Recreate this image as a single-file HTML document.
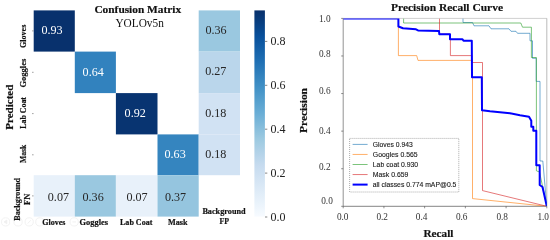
<!DOCTYPE html>
<html><head><meta charset="utf-8"><title>Confusion Matrix and Precision Recall Curve</title>
<style>
html,body{margin:0;padding:0;background:#fff;}
svg{display:block;}
text{font-family:"Liberation Serif",serif;fill:#111;}
.ann text{font-size:12.5px;text-anchor:middle;}
.bd{stroke:#111;stroke-width:0.18px;}
.cbt{font-size:12px;fill:#222;}
.pt{font-size:9.3px;fill:#333;}
.lg{font-family:"Liberation Sans",sans-serif;font-size:7px;fill:#1a1a1a;stroke:#1a1a1a;stroke-width:0.12px;}
</style></head><body>
<svg width="550" height="240" viewBox="0 0 550 240">
<defs><clipPath id="axclip"><rect x="343.2" y="18.4" width="203.6" height="187.9"/></clipPath><linearGradient id="cbg" x1="0" y1="0" x2="0" y2="1"><stop offset="0.0000" stop-color="#08306b"/><stop offset="0.0625" stop-color="#084082"/><stop offset="0.1250" stop-color="#08509b"/><stop offset="0.1875" stop-color="#1460a8"/><stop offset="0.2500" stop-color="#2070b4"/><stop offset="0.3125" stop-color="#3181bd"/><stop offset="0.3750" stop-color="#4191c6"/><stop offset="0.4375" stop-color="#56a0ce"/><stop offset="0.5000" stop-color="#6aaed6"/><stop offset="0.5625" stop-color="#84bcdb"/><stop offset="0.6250" stop-color="#9dcae1"/><stop offset="0.6875" stop-color="#b2d2e8"/><stop offset="0.7500" stop-color="#c6dbef"/><stop offset="0.8125" stop-color="#d2e3f3"/><stop offset="0.8750" stop-color="#deebf7"/><stop offset="0.9375" stop-color="#eaf3fb"/><stop offset="1.0000" stop-color="#f7fbff"/></linearGradient></defs>
<rect width="550" height="240" fill="#fff"/>
<g>
<rect x="33.70" y="10.40" width="41.10" height="41.20" fill="#08316d"/>
<rect x="198.70" y="10.40" width="41.30" height="41.20" fill="#9ac8e0"/>
<rect x="74.80" y="51.60" width="41.10" height="41.50" fill="#3282be"/>
<rect x="198.70" y="51.60" width="41.30" height="41.50" fill="#bad6eb"/>
<rect x="115.90" y="93.10" width="41.60" height="41.30" fill="#083471"/>
<rect x="198.70" y="93.10" width="41.30" height="41.30" fill="#d1e2f3"/>
<rect x="157.50" y="134.40" width="41.20" height="40.80" fill="#3585bf"/>
<rect x="198.70" y="134.40" width="41.30" height="40.80" fill="#d1e2f3"/>
<rect x="33.70" y="175.20" width="41.10" height="41.40" fill="#e8f1fa"/>
<rect x="74.80" y="175.20" width="41.10" height="41.40" fill="#9ac8e0"/>
<rect x="115.90" y="175.20" width="41.60" height="41.40" fill="#e8f1fa"/>
<rect x="157.50" y="175.20" width="41.20" height="41.40" fill="#95c5df"/>
</g>
<g class="ann">
<text x="52.00" y="34.20" textLength="21.2" lengthAdjust="spacingAndGlyphs" style="fill:#fff">0.93</text>
<text x="216.00" y="34.20" textLength="21.2" lengthAdjust="spacingAndGlyphs" style="fill:#262626">0.36</text>
<text x="93.20" y="75.60" textLength="21.2" lengthAdjust="spacingAndGlyphs" style="fill:#fff">0.64</text>
<text x="215.80" y="75.40" textLength="21.2" lengthAdjust="spacingAndGlyphs" style="fill:#262626">0.27</text>
<text x="135.20" y="117.40" textLength="21.2" lengthAdjust="spacingAndGlyphs" style="fill:#fff">0.92</text>
<text x="215.80" y="117.30" textLength="21.2" lengthAdjust="spacingAndGlyphs" style="fill:#262626">0.18</text>
<text x="175.10" y="158.00" textLength="21.2" lengthAdjust="spacingAndGlyphs" style="fill:#fff">0.63</text>
<text x="215.80" y="157.90" textLength="21.2" lengthAdjust="spacingAndGlyphs" style="fill:#262626">0.18</text>
<text x="58.40" y="201.10" textLength="21.2" lengthAdjust="spacingAndGlyphs" style="fill:#262626">0.07</text>
<text x="93.10" y="201.10" textLength="21.2" lengthAdjust="spacingAndGlyphs" style="fill:#262626">0.36</text>
<text x="137.00" y="201.10" textLength="21.2" lengthAdjust="spacingAndGlyphs" style="fill:#262626">0.07</text>
<text x="175.50" y="201.10" textLength="21.2" lengthAdjust="spacingAndGlyphs" style="fill:#262626">0.37</text>
</g>
<!-- y tick marks -->
<g stroke="#666" stroke-width="0.6">
<line x1="32" x2="33.6" y1="30.9" y2="30.9"/><line x1="32" x2="33.6" y1="72.3" y2="72.3"/><line x1="32" x2="33.6" y1="113.6" y2="113.6"/><line x1="32" x2="33.6" y1="154.8" y2="154.8"/><line x1="32" x2="33.6" y1="195.9" y2="195.9"/>
</g>
<!-- colorbar -->
<rect x="254.4" y="10.4" width="10.5" height="206.2" fill="url(#cbg)"/>
<line x1="265" x2="267.3" y1="217.00" y2="217.00" stroke="#333" stroke-width="0.6"/>
<text class="cbt" x="270.4" y="221.00">0.0</text>
<line x1="265" x2="267.3" y1="173.10" y2="173.10" stroke="#333" stroke-width="0.6"/>
<text class="cbt" x="270.4" y="177.10">0.2</text>
<line x1="265" x2="267.3" y1="129.20" y2="129.20" stroke="#333" stroke-width="0.6"/>
<text class="cbt" x="270.4" y="133.20">0.4</text>
<line x1="265" x2="267.3" y1="85.30" y2="85.30" stroke="#333" stroke-width="0.6"/>
<text class="cbt" x="270.4" y="89.30">0.6</text>
<line x1="265" x2="267.3" y1="41.40" y2="41.40" stroke="#333" stroke-width="0.6"/>
<text class="cbt" x="270.4" y="45.40">0.8</text>
<!-- watermark icons -->
<g fill="none" stroke="#efefef" stroke-width="0.8">
<circle cx="5.6" cy="221.9" r="4.1"/><circle cx="18.1" cy="221.9" r="4.1"/><circle cx="29.2" cy="221.9" r="4.1"/><circle cx="39.8" cy="221.9" r="4.1"/><circle cx="74.2" cy="221.9" r="4.1"/>
<path d="M6.8,220 L4,221.9 L6.8,223.8 Z" fill="#efefef"/><path d="M27.6,223.6 L30.8,220.2"/><path d="M72.4,221.9 H76"/>
</g>
<!-- PR curve -->
<g stroke-width="0.8" fill="none"><line x1="343.2" x2="546.8" y1="18.4" y2="18.4" stroke="#c4c4c4"/><line x1="546.8" x2="546.8" y1="18.4" y2="206.3" stroke="#a8a8a8"/><line x1="343.2" x2="343.2" y1="18.4" y2="206.3" stroke="#777"/><line x1="343.2" x2="546.8" y1="206.3" y2="206.3" stroke="#666"/></g>
<g clip-path="url(#axclip)">
<path d="M463,18.4 L463,22.5 L472.5,22.5 L474,25.8 L489,25.8 L491,28.8 L509,28.8 L511,31.3 L516,31.3 L517.5,33.3 L530,33.3 L530,40.8 L532.5,40.8 L532.5,58.3 L536.2,58.3 L536.2,81.4 L540,81.4 L540,161 L542.8,161 L546.8,206.3" fill="none" stroke="#1f77b4" stroke-width="1" stroke-opacity="0.62" stroke-linejoin="round"/>
<path d="M398.4,18.4 L398.4,55.6 L416.7,55.6 L418,60.4 L472.5,60.4 L472.5,198.6 L546.8,206.3" fill="none" stroke="#ff7f0e" stroke-width="1" stroke-opacity="0.62" stroke-linejoin="round"/>
<path d="M403.6,18.4 L403.6,23 L520.8,23 L522.5,27.2 L531.4,27.2 L531.4,57.5 L536.4,57.5 L536.4,170.8 L539.5,172 L546.8,206.3" fill="none" stroke="#2ca02c" stroke-width="1" stroke-opacity="0.62" stroke-linejoin="round"/>
<path d="M439.5,18.4 L439.5,34 L450.4,34 L450.4,55.6 L472,55.6 L472,62.5 L482.5,62.5 L482.5,190.6 L546.8,206.3" fill="none" stroke="#d62728" stroke-width="1" stroke-opacity="0.62" stroke-linejoin="round"/>
<path d="M343.2,18.4 L398.4,18.4 L398.4,26.5 L403,28.3 L416,29.3 L418,30.4 L439,31 L439.3,34.2 L450,34.2 L450,39.2 L462.5,39.2 L463.5,40.8 L471.8,40.8 L472,77.2 L481.8,77.2 L482,110.3 L490,111.3 L510,113.3 L520,115.3 L529,116.7 L531.3,120.8 L531.3,126.7 L533.3,126.7 L533.3,130.8 L536.3,130.8 L536.3,165.3 L539.7,165.3 L539.7,185 L542.5,187 L546.8,206.3" fill="none" stroke="#0000ff" stroke-width="2" stroke-linejoin="round"/>
</g>
<line x1="343.20" x2="343.20" y1="206.3" y2="208.3" stroke="#444" stroke-width="0.6"/>
<line x1="341.2" x2="343.2" y1="206.30" y2="206.30" stroke="#444" stroke-width="0.6"/>
<text class="pt" text-anchor="middle" x="342.7" y="220">0.0</text>
<text class="pt" text-anchor="end" x="332.8" y="203.75">0.0</text>
<line x1="383.92" x2="383.92" y1="206.3" y2="208.3" stroke="#444" stroke-width="0.6"/>
<line x1="341.2" x2="343.2" y1="168.72" y2="168.72" stroke="#444" stroke-width="0.6"/>
<text class="pt" text-anchor="middle" x="382.2" y="220">0.2</text>
<text class="pt" text-anchor="end" x="330.6" y="170.05">0.2</text>
<line x1="424.64" x2="424.64" y1="206.3" y2="208.3" stroke="#444" stroke-width="0.6"/>
<line x1="341.2" x2="343.2" y1="131.14" y2="131.14" stroke="#444" stroke-width="0.6"/>
<text class="pt" text-anchor="middle" x="421.6" y="220">0.4</text>
<text class="pt" text-anchor="end" x="330.6" y="134.25">0.4</text>
<line x1="465.36" x2="465.36" y1="206.3" y2="208.3" stroke="#444" stroke-width="0.6"/>
<line x1="341.2" x2="343.2" y1="93.56" y2="93.56" stroke="#444" stroke-width="0.6"/>
<text class="pt" text-anchor="middle" x="461.7" y="220">0.6</text>
<text class="pt" text-anchor="end" x="330.6" y="94.25">0.6</text>
<line x1="506.08" x2="506.08" y1="206.3" y2="208.3" stroke="#444" stroke-width="0.6"/>
<line x1="341.2" x2="343.2" y1="55.98" y2="55.98" stroke="#444" stroke-width="0.6"/>
<text class="pt" text-anchor="middle" x="502.2" y="220">0.8</text>
<text class="pt" text-anchor="end" x="330.6" y="57.40">0.8</text>
<line x1="546.80" x2="546.80" y1="206.3" y2="208.3" stroke="#444" stroke-width="0.6"/>
<line x1="341.2" x2="343.2" y1="18.40" y2="18.40" stroke="#444" stroke-width="0.6"/>
<text class="pt" text-anchor="middle" x="543.2" y="220">1.0</text>
<text class="pt" text-anchor="end" x="330.6" y="22.05">1.0</text>
<rect x="349.6" y="138.4" width="109.2" height="53.6" fill="#fff" stroke="#888" stroke-width="0.7" stroke-dasharray="1 1"/>
<line x1="352.6" x2="367.6" y1="144.40" y2="144.40" stroke="#1f77b4" stroke-width="1" stroke-opacity="0.62"/>
<text class="lg" x="372.8" y="146.90" textLength="39.90" lengthAdjust="spacingAndGlyphs">Gloves 0.943</text>
<line x1="352.6" x2="367.6" y1="154.45" y2="154.45" stroke="#ff7f0e" stroke-width="1" stroke-opacity="0.62"/>
<text class="lg" x="372.8" y="156.95" textLength="44.90" lengthAdjust="spacingAndGlyphs">Googles 0.565</text>
<line x1="352.6" x2="367.6" y1="164.50" y2="164.50" stroke="#2ca02c" stroke-width="1" stroke-opacity="0.62"/>
<text class="lg" x="372.8" y="167.00" textLength="45.40" lengthAdjust="spacingAndGlyphs">Lab coat 0.930</text>
<line x1="352.6" x2="367.6" y1="174.55" y2="174.55" stroke="#d62728" stroke-width="1" stroke-opacity="0.62"/>
<text class="lg" x="372.8" y="177.05" textLength="35.60" lengthAdjust="spacingAndGlyphs">Mask 0.659</text>
<line x1="352.6" x2="367.6" y1="184.60" y2="184.60" stroke="#0000ff" stroke-width="2"/>
<text class="lg" x="372.8" y="187.10" textLength="83.60" lengthAdjust="spacingAndGlyphs">all classes 0.774 mAP@0.5</text>
<!-- labels -->
<text x="94.40" y="12.50" font-size="11.1" font-weight="bold" class="bd" textLength="86.80" lengthAdjust="spacingAndGlyphs">Confusion Matrix</text>
<text x="115.40" y="26.60" font-size="11.8" textLength="48.40" lengthAdjust="spacingAndGlyphs">YOLOv5n</text>
<text transform="translate(25.60,48.00) rotate(-90)" font-size="8.0" font-weight="bold" class="bd" textLength="23.30" lengthAdjust="spacingAndGlyphs">Gloves</text>
<text transform="translate(25.60,87.50) rotate(-90)" font-size="8.0" font-weight="bold" class="bd" textLength="28.70" lengthAdjust="spacingAndGlyphs">Goggles</text>
<text transform="translate(25.60,128.70) rotate(-90)" font-size="8.0" font-weight="bold" class="bd" textLength="31.70" lengthAdjust="spacingAndGlyphs">Lab Coat</text>
<text transform="translate(25.60,163.00) rotate(-90)" font-size="8.0" font-weight="bold" class="bd" textLength="18.30" lengthAdjust="spacingAndGlyphs">Mask</text>
<text transform="translate(19.90,220.80) rotate(-90)" font-size="8.0" font-weight="bold" class="bd" textLength="42.80" lengthAdjust="spacingAndGlyphs">Background</text>
<text transform="translate(29.80,205.00) rotate(-90)" font-size="8.0" font-weight="bold" class="bd" textLength="11.20" lengthAdjust="spacingAndGlyphs">FN</text>
<text transform="translate(12.80,129.70) rotate(-90)" font-size="11" font-weight="bold" class="bd" textLength="45.00" lengthAdjust="spacingAndGlyphs">Predicted</text>
<text x="42.30" y="224.80" font-size="8.0" font-weight="bold" class="bd" textLength="23.10" lengthAdjust="spacingAndGlyphs">Gloves</text>
<text x="79.60" y="224.80" font-size="8.0" font-weight="bold" class="bd" textLength="28.40" lengthAdjust="spacingAndGlyphs">Goggles</text>
<text x="120.00" y="224.80" font-size="8.0" font-weight="bold" class="bd" textLength="32.40" lengthAdjust="spacingAndGlyphs">Lab Coat</text>
<text x="168.00" y="224.80" font-size="8.0" font-weight="bold" class="bd" textLength="19.60" lengthAdjust="spacingAndGlyphs">Mask</text>
<text x="202.40" y="214.20" font-size="8.0" font-weight="bold" class="bd" textLength="43.20" lengthAdjust="spacingAndGlyphs">Background</text>
<text x="219.40" y="224.20" font-size="8.0" font-weight="bold" class="bd" textLength="9.60" lengthAdjust="spacingAndGlyphs">FP</text>
<text x="391.00" y="10.50" font-size="11.1" font-weight="bold" class="bd" textLength="112.00" lengthAdjust="spacingAndGlyphs">Precision Recall Curve</text>
<text transform="translate(306.60,133.00) rotate(-90)" font-size="10.8" font-weight="bold" class="bd" textLength="45.00" lengthAdjust="spacingAndGlyphs">Precision</text>
<text x="423.40" y="237.10" font-size="11.3" font-weight="bold" class="bd" textLength="30.00" lengthAdjust="spacingAndGlyphs">Recall</text>
</svg>
</body></html>
